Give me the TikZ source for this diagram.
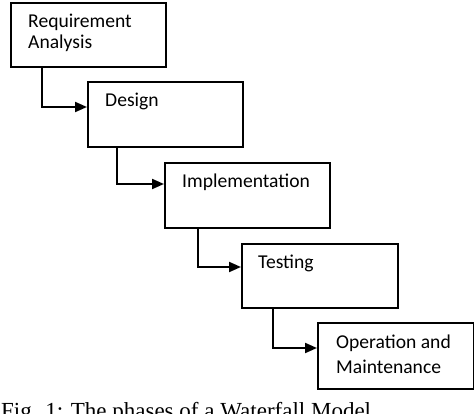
\documentclass[tikz,border=0pt]{standalone}
\usepackage{fontspec}
\setmainfont{Carlito}
\newfontfamily\captionfont{Liberation Serif}
\usetikzlibrary{arrows.meta,positioning}

\tikzset{
	phase/.style={draw, line width=1.8pt, anchor=north west, inner sep=0pt},
	phase text/.style={anchor=north west, inner sep=0pt, align=left, font=\fontsize{19.6}{21}\selectfont},
	flow/.style={line width=2pt, -{Triangle[length=12pt,width=10pt]}},
}

\begin{document}
\begin{tikzpicture}[x=1pt,y=-1pt]
	\useasboundingbox (0,0) rectangle (474,414);
	% boxes
	\node[phase, minimum width=155pt, minimum height=64pt] (req) at (10,2) {};
	\node[phase, minimum width=155pt, minimum height=65pt] (design) at (87,81) {};
	\node[phase, minimum width=165pt, minimum height=65pt] (impl) at (164,162) {};
	\node[phase, minimum width=156pt, minimum height=64pt] (test) at (241,243) {};
	\node[phase, minimum width=156pt, minimum height=66pt] (ops) at (317,322) {};
	% texts
	\node[phase text] (req-text) at ([shift={(18pt,-12pt)}]req.north west) {Requirement\\Analysis};
	\node[phase text] (design-text) at ([shift={(18pt,-12pt)}]design.north west) {Design};
	\node[phase text] (impl-text) at ([shift={(18pt,-12pt)}]impl.north west) {Implementation};
	\node[phase text] (test-text) at ([shift={(17pt,-12pt)}]test.north west) {Testing};
	\node[phase text] (ops-text) at ([shift={(19pt,-13pt)}]ops.north west) {Operation and\\[4pt]Maintenance};
	% arrows
	\draw[flow] ([xshift=32pt]req.south west) |- ([yshift=-26pt]design.north west);
	\draw[flow] ([xshift=30pt]design.south west) |- ([yshift=-22pt]impl.north west);
	\draw[flow] ([xshift=34pt]impl.south west) |- ([yshift=-24pt]test.north west);
	\draw[flow] ([xshift=32pt]test.south west) |- ([yshift=-26pt]ops.north west);
	% caption
	\node[anchor=base west, inner sep=0pt, font=\captionfont\fontsize{23}{25}\selectfont] (caption) at (1,418) {Fig. 1: The phases of a Waterfall Model};
\end{tikzpicture}
\end{document}
